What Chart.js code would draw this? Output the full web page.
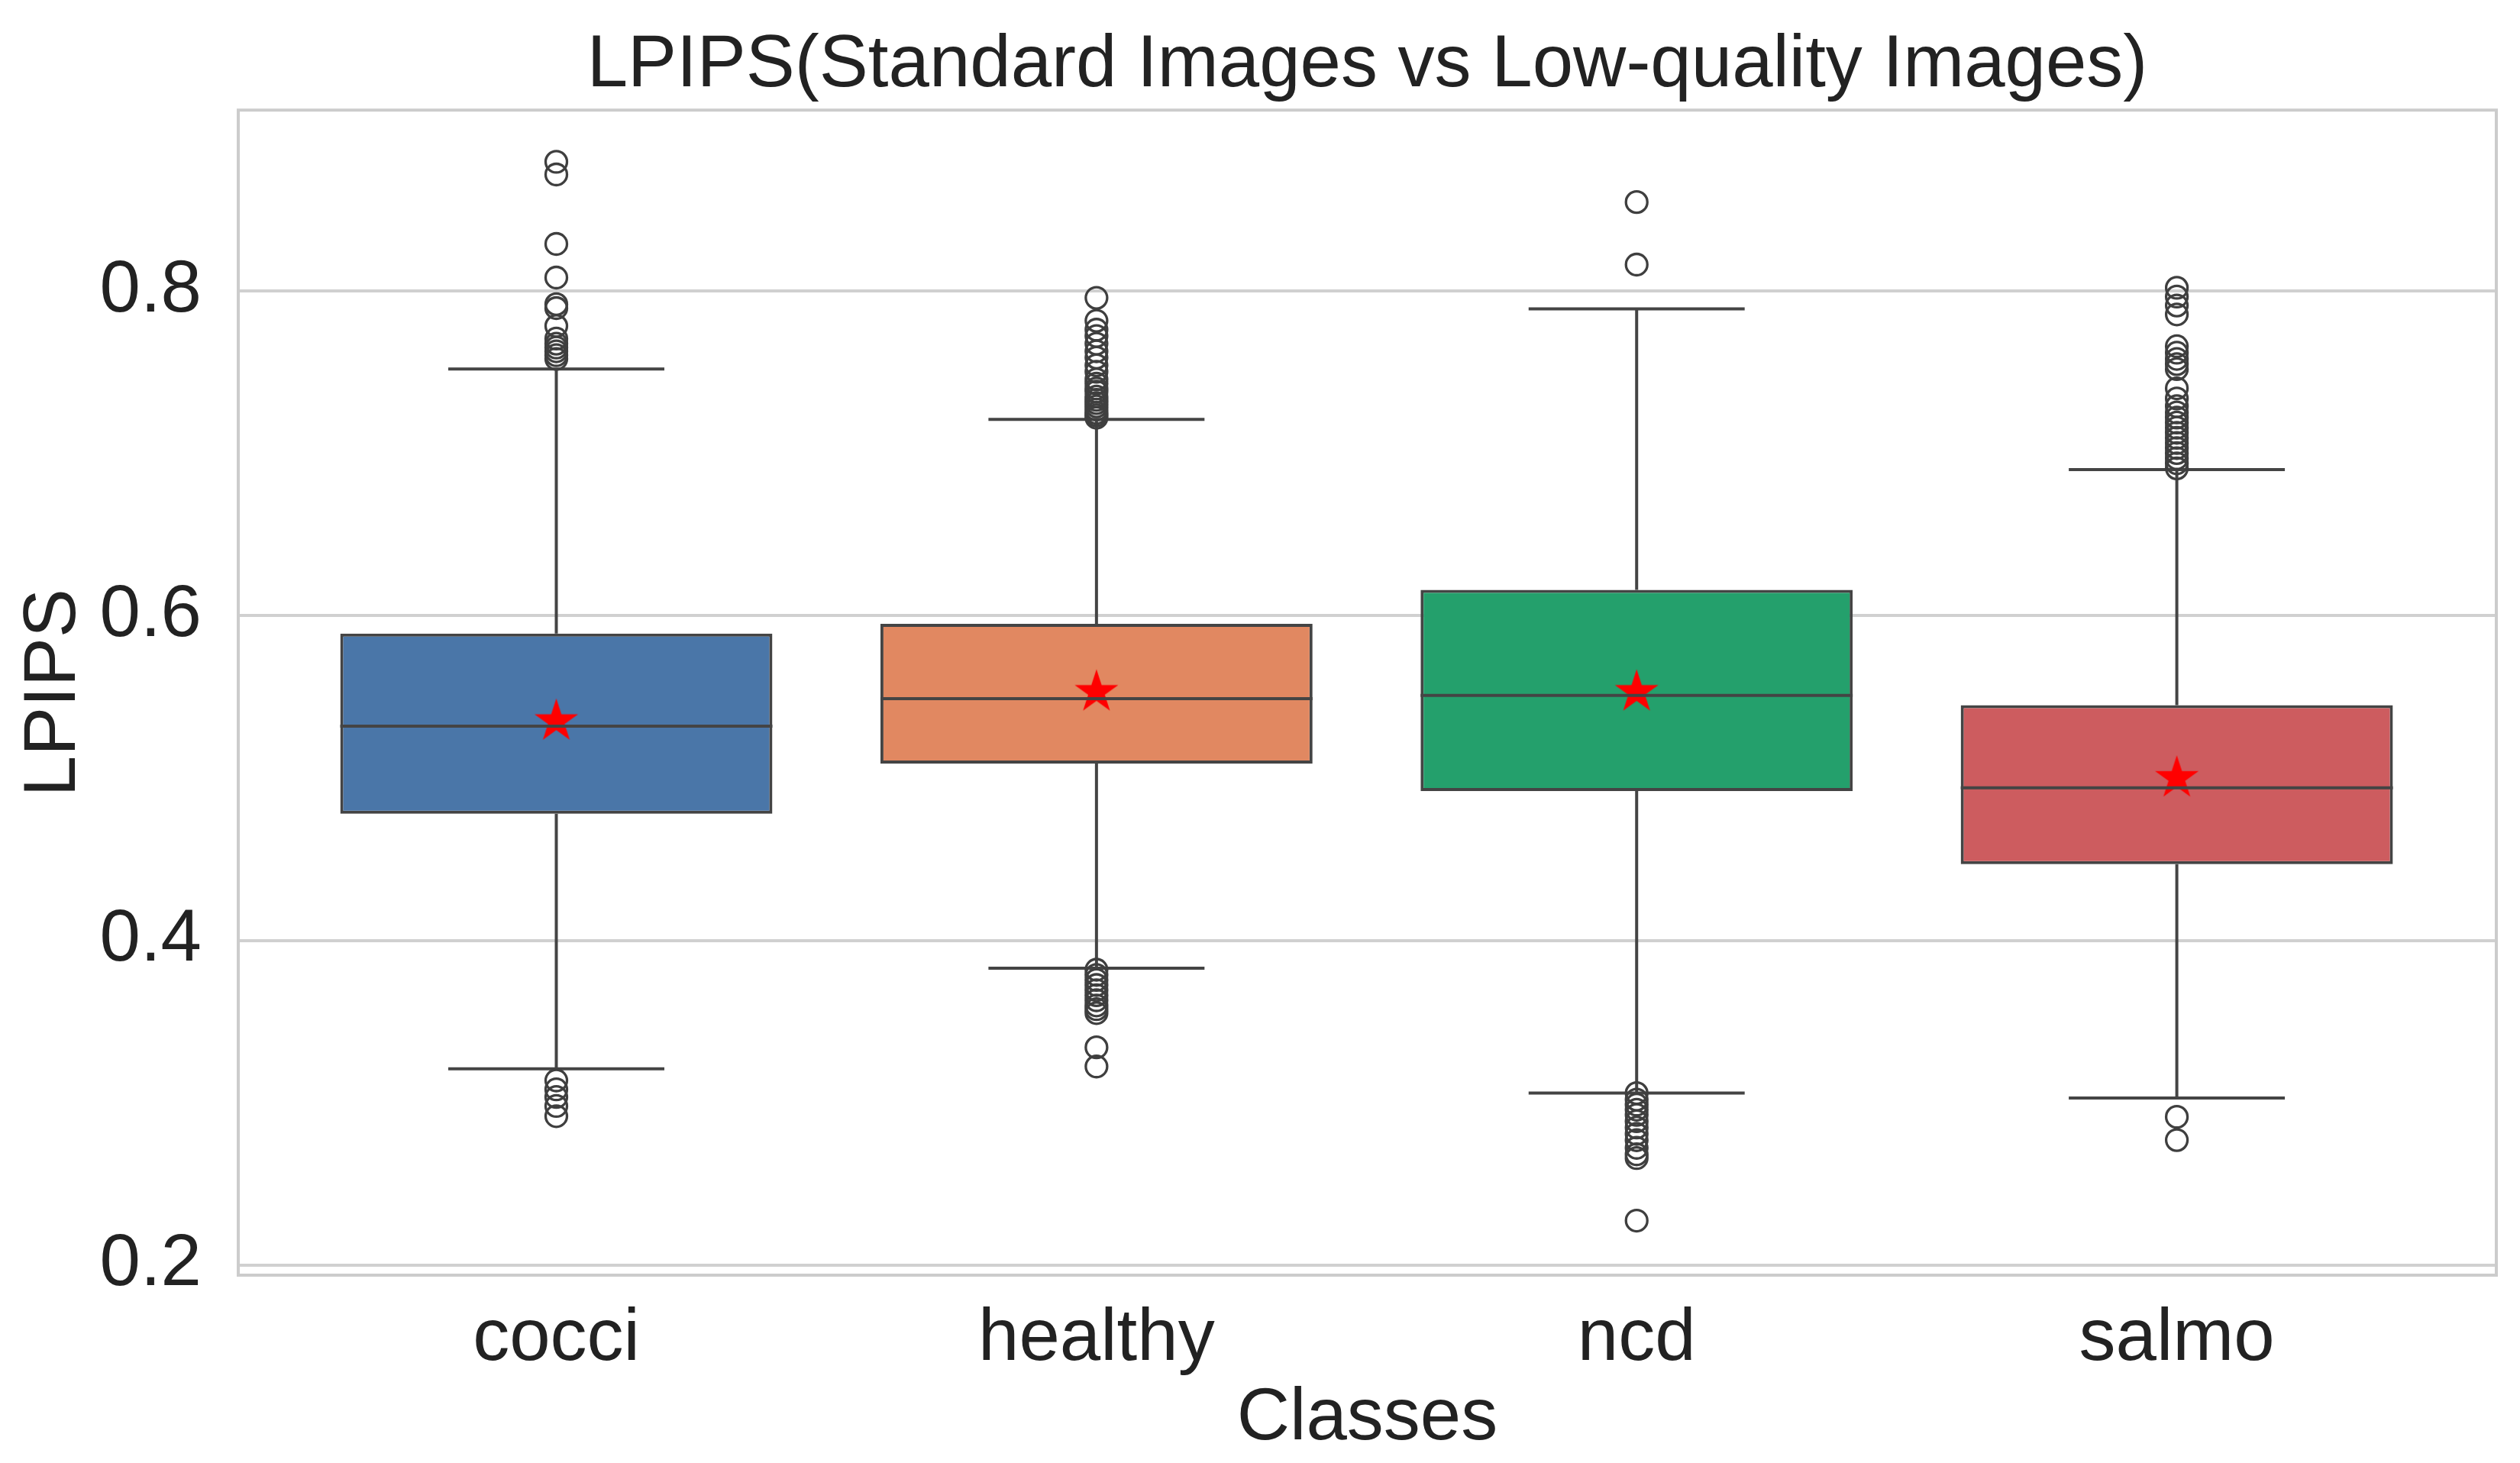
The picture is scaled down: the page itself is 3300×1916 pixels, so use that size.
<!DOCTYPE html>
<html>
<head>
<meta charset="utf-8">
<script src="https://cdn.jsdelivr.net/npm/chart.js@4/dist/chart.umd.min.js"></script>
<style>
html,body{margin:0;padding:0;background:#ffffff;}
canvas{display:block;}
</style>
</head>
<body>
<canvas id="c" width="3300" height="1916"></canvas>
<script>
// ---- data ----
const categories = ['cocci', 'healthy', 'ncd', 'salmo'];
const q1Values = [0.478, 0.509, 0.492, 0.447];
const medianValues = [0.532, 0.549, 0.551, 0.494];
const q3Values = [0.589, 0.595, 0.616, 0.545];
const whiskerLow = [0.321, 0.383, 0.306, 0.303];
const whiskerHigh = [0.752, 0.721, 0.789, 0.690];
const meanValues = [0.535, 0.553, 0.553, 0.500];
const outliersCocci = [0.8796, 0.8718, 0.829, 0.8083, 0.7919, 0.7895, 0.7785, 0.7707, 0.7676, 0.7652, 0.7629, 0.7605, 0.7582,
  0.3138, 0.3083, 0.3036, 0.2981, 0.2918];
const outliersHealthy = [0.7958, 0.7817, 0.7762, 0.7723, 0.7676, 0.7629, 0.759, 0.7543, 0.7503, 0.7456, 0.743, 0.740, 0.738,
  0.735, 0.733, 0.731, 0.729, 0.727, 0.725, 0.7235, 0.722,
  0.382, 0.3788, 0.3757, 0.3726, 0.3694, 0.3663, 0.3632, 0.360, 0.3577, 0.3553, 0.3342, 0.3224];
const outliersNcd = [0.8548, 0.8163, 0.306, 0.302, 0.2989, 0.2958, 0.2926, 0.2887, 0.2848, 0.2809, 0.277, 0.2723, 0.2683, 0.266, 0.2275];
const outliersSalmo = [0.802, 0.7966, 0.7911, 0.7856, 0.766, 0.762, 0.7582, 0.755, 0.7519, 0.7401, 0.7338, 0.7291, 0.7252,
  0.7221, 0.719, 0.7158, 0.7127, 0.7096, 0.7064, 0.7033, 0.7002, 0.697, 0.6939, 0.6908, 0.2914, 0.2771];
const outlierLists = [outliersCocci, outliersHealthy, outliersNcd, outliersSalmo];
const yTickValues = [0.2, 0.4, 0.6, 0.8];
const boxColors = ['#4a76a8', '#e18861', '#24a06c', '#cd5c5f'];

const titleText = 'LPIPS(Standard Images vs Low-quality Images)';
const xTitle = 'Classes';
const yTitle = 'LPIPS';

// ---- styling ----
const FONT = "'Liberation Sans', Arial, Helvetica, sans-serif";
const TEXT = '#222222';
const LINE = '#444444';
const EDGE = '#cccccc';

// five-pointed star marker
function makeStar(size, color) {
  const c = document.createElement('canvas');
  c.width = size; c.height = size;
  const g = c.getContext('2d');
  const cx = size / 2, cy = size / 2;
  const R = size / 2 - 1, r = R * 0.382;
  g.beginPath();
  for (let i = 0; i < 10; i++) {
    const a = -Math.PI / 2 + i * Math.PI / 5;
    const rad = i % 2 ? r : R;
    g.lineTo(cx + rad * Math.cos(a), cy + rad * Math.sin(a));
  }
  g.closePath();
  g.fillStyle = color;
  g.fill();
  return c;
}
const star = makeStar(62, '#ff0000');

// datasets built from the arrays
const whiskerData = [];
categories.forEach((c, i) => {
  whiskerData.push({x: i, y: q3Values[i]}, {x: i, y: whiskerHigh[i]}, {x: i, y: null});
  whiskerData.push({x: i, y: q1Values[i]}, {x: i, y: whiskerLow[i]}, {x: i, y: null});
  whiskerData.push({x: i - 0.2, y: whiskerHigh[i]}, {x: i + 0.2, y: whiskerHigh[i]}, {x: i, y: null});
  whiskerData.push({x: i - 0.2, y: whiskerLow[i]}, {x: i + 0.2, y: whiskerLow[i]}, {x: i, y: null});
});
const medianData = [];
categories.forEach((c, i) => {
  medianData.push({x: i - 0.4, y: medianValues[i]}, {x: i + 0.4, y: medianValues[i]}, {x: i, y: null});
});
const boxData = categories.map((c, i) => ({x: i, y: [q1Values[i], q3Values[i]]}));
const outlierData = [];
outlierLists.forEach((list, i) => list.forEach(v => outlierData.push({x: i, y: v})));
const meanData = categories.map((c, i) => ({x: i, y: meanValues[i]}));

const framePlugin = {
  id: 'frame',
  beforeDatasetsDraw(chart) {
    const {ctx, chartArea: a} = chart;
    ctx.save();
    ctx.strokeStyle = EDGE;
    ctx.lineWidth = 4;
    ctx.strokeRect(a.left, a.top, a.right - a.left, a.bottom - a.top);
    ctx.restore();
  }
};

new Chart(document.getElementById('c'), {
  type: 'bar',
  data: {
    datasets: [
      {
        type: 'line', label: 'whiskers', data: whiskerData, order: 5,
        borderColor: LINE, borderWidth: 4, pointRadius: 0, spanGaps: false,
        borderCapStyle: 'butt', fill: false
      },
      {
        type: 'bar', label: 'boxes', data: boxData, order: 4,
        backgroundColor: boxColors, borderColor: LINE, borderWidth: 4,
        borderSkipped: false, barPercentage: 0.8, categoryPercentage: 1.0, grouped: false
      },
      {
        type: 'scatter', label: 'means', data: meanData, order: 3,
        pointStyle: star, pointRadius: 30
      },
      {
        type: 'line', label: 'medians', data: medianData, order: 2,
        borderColor: LINE, borderWidth: 4, pointRadius: 0, spanGaps: false,
        borderCapStyle: 'butt', fill: false
      },
      {
        type: 'scatter', label: 'outliers', data: outlierData, order: 1,
        pointStyle: 'circle', pointRadius: 14, borderWidth: 3.3,
        borderColor: '#3f3f3f', backgroundColor: 'rgba(0,0,0,0)'
      }
    ]
  },
  options: {
    responsive: false,
    devicePixelRatio: 1,
    animation: false,
    events: [],
    layout: {padding: {left: 0, right: 23, top: 0, bottom: 0}},
    plugins: {
      legend: {display: false},
      tooltip: {enabled: false},
      title: {
        display: true, text: titleText, color: TEXT, fullSize: false,
        font: {family: FONT, size: 96, weight: 'normal'},
        padding: {top: 29, bottom: 0}
      }
    },
    scales: {
      x: {
        type: 'linear', min: -0.5888, max: 3.5915, offset: false,
        grid: {display: false, drawTicks: false, offset: false},
        border: {display: false},
        afterBuildTicks: (s) => { s.ticks = categories.map((c, i) => ({value: i})); },
        afterFit: (s) => { s.height = 246; },
        ticks: {
          color: TEXT, font: {family: FONT, size: 96}, padding: 27,
          autoSkip: false, maxRotation: 0, minRotation: 0,
          callback: (v) => categories[v] !== undefined ? categories[v] : ''
        },
        title: {
          display: true, text: xTitle, color: TEXT,
          font: {family: FONT, size: 96}, padding: {top: 0, bottom: 0}
        }
      },
      y: {
        type: 'linear', min: 0.19389, max: 0.91144,
        grid: {color: '#d0d0d0', lineWidth: 4, drawTicks: false},
        border: {display: false},
        afterBuildTicks: (s) => { s.ticks = yTickValues.map(v => ({value: v})); },
        afterFit: (s) => { s.width = 312; },
        ticks: {
          color: TEXT, font: {family: FONT, size: 96}, padding: 48,
          callback: (v) => Number(v).toFixed(1)
        },
        title: {
          display: true, text: yTitle, color: TEXT,
          font: {family: FONT, size: 96}, padding: {top: 14, bottom: 0}
        }
      }
    }
  },
  plugins: [framePlugin]
});
</script>
</body>
</html>
